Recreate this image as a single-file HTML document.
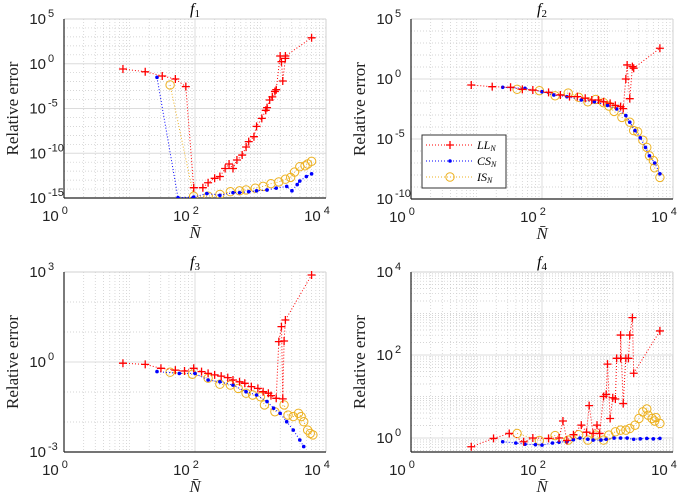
<!DOCTYPE html>
<html><head><meta charset="utf-8"><style>
body{margin:0;background:#fff;}
svg text{font-family:"Liberation Sans",sans-serif;}
</style></head><body>
<svg id="c" width="685" height="493" xmlns="http://www.w3.org/2000/svg"></svg>
<script>
// data stored as log10 values
const p1_LL_x=[0.9,1.24,1.5,1.7,1.86,1.98,2.12,2.2,2.3,2.38,2.46,2.52,2.58,2.64,2.72,2.78,2.82,2.9,2.94,3.02,3.08,3.1,3.14,3.18,3.22,3.24,3.3,3.32,3.34,3.38,3.38,3.78];
const p1_LL_y=[-0.59,-0.89,-1.37,-1.70,-2.56,-13.85,-13.85,-13.3,-12.8,-12.6,-11.7,-11.2,-11.7,-10.75,-10.2,-9.3,-8.7,-8.15,-7.0,-6.1,-5.2,-4.9,-4.05,-3.7,-3.1,-2.9,0.87,0.23,-1.93,0.6,0.87,2.9];
const p1_CS_x=[1.42,1.74,1.98,2.18,2.38,2.58,2.68,2.82,2.94,3.1,3.24,3.4,3.48,3.56,3.6,3.7,3.78];
const p1_CS_y=[-1.52,-14.97,-14.9,-14.5,-14.7,-14.4,-14.4,-14.3,-14.2,-14.1,-13.9,-13.7,-14.2,-13.5,-13.1,-12.6,-12.3];
const p1_IS_x=[1.62,1.98,2.2,2.38,2.54,2.68,2.78,2.92,3.04,3.16,3.28,3.38,3.46,3.52,3.6,3.68,3.72,3.78];
const p1_IS_y=[-2.37,-14.8,-14.8,-14.6,-14.3,-14.2,-14.1,-13.9,-13.7,-13.4,-13.2,-12.9,-12.7,-12.1,-11.5,-11.4,-11.2,-10.9];

const p2_LL_x=[0.92,1.24,1.52,1.7,1.86,2.1,2.28,2.42,2.54,2.66,2.76,2.86,2.94,3.04,3.12,3.2,3.24,3.28,3.3,3.34,3.38,3.4,3.8];
const p2_LL_y=[-0.5,-0.64,-0.69,-0.86,-0.92,-1.11,-1.33,-1.47,-1.47,-1.6,-1.75,-1.75,-1.9,-2.03,-2.2,-2.3,-2.47,0.0,1.17,-1.64,1.03,0.9,2.56];
const p2_CS_x=[1.4,1.74,2.0,2.18,2.38,2.6,2.8,3.0,3.14,3.28,3.34,3.42,3.5,3.58,3.64,3.72,3.8];
const p2_CS_y=[-0.69,-0.78,-1.06,-1.33,-1.47,-1.75,-1.9,-2.2,-2.5,-3.05,-3.6,-4.3,-4.9,-5.7,-6.4,-7.0,-7.9];
const p2_IS_x=[1.62,1.96,2.2,2.4,2.56,2.7,2.82,2.94,3.02,3.1,3.22,3.34,3.4,3.46,3.54,3.6,3.64,3.7,3.72,3.8];
const p2_IS_y=[-0.86,-0.97,-1.4,-1.17,-1.53,-1.9,-1.7,-1.97,-2.25,-2.7,-3.2,-3.6,-4.3,-4.4,-5.1,-5.7,-6.4,-6.8,-7.4,-8.2];

const p3_LL_x=[0.9,1.24,1.48,1.7,1.84,1.98,2.1,2.2,2.3,2.4,2.5,2.58,2.68,2.76,2.86,2.96,3.04,3.12,3.16,3.24,3.28,3.32,3.34,3.36,3.38,3.78];
const p3_LL_y=[-0.04,-0.08,-0.21,-0.27,-0.3,-0.21,-0.32,-0.38,-0.43,-0.47,-0.52,-0.6,-0.66,-0.71,-0.82,-0.88,-0.99,-1.04,-1.12,-1.21,0.68,1.18,-1.23,0.7,1.4,2.9];
const p3_CS_x=[1.42,1.76,2.0,2.2,2.38,2.58,2.78,2.94,3.1,3.2,3.3,3.4,3.5,3.6,3.66];
const p3_CS_y=[-0.32,-0.38,-0.38,-0.6,-0.66,-0.77,-0.99,-1.1,-1.32,-1.54,-1.71,-1.99,-2.27,-2.6,-2.82];
const p3_IS_x=[1.62,1.96,2.2,2.38,2.54,2.66,2.78,2.88,3.0,3.06,3.22,3.36,3.42,3.5,3.58,3.62,3.66,3.72,3.76,3.8];
const p3_IS_y=[-0.34,-0.41,-0.54,-0.74,-0.77,-0.88,-1.04,-1.1,-1.16,-1.43,-1.66,-1.43,-1.77,-1.82,-1.71,-1.82,-1.99,-2.27,-2.38,-2.43];

const p4_LL_x=[0.92,1.26,1.5,1.72,1.86,2.1,2.26,2.32,2.38,2.48,2.6,2.68,2.72,2.78,2.84,2.88,2.94,2.98,3.0,3.04,3.08,3.12,3.14,3.2,3.2,3.24,3.28,3.32,3.34,3.38,3.4,3.8];
const p4_LL_y=[-0.21,-0.01,0.11,-0.09,0.0,-0.01,0.0,0.41,-0.06,0.08,0.31,0.14,0.78,0.11,0.31,0.11,1.0,1.05,1.78,0.47,0.97,0.94,1.92,1.92,2.48,0.83,1.92,1.92,2.48,2.9,1.56,2.58];
const p4_CS_x=[1.4,1.6,1.74,1.9,2.0,2.16,2.26,2.38,2.48,2.58,2.7,2.78,2.9,2.98,3.1,3.2,3.3,3.4,3.5,3.6,3.7,3.8];
const p4_CS_y=[-0.09,-0.12,-0.15,-0.16,-0.17,-0.12,-0.1,-0.09,-0.04,0.0,-0.03,-0.05,-0.05,-0.03,0.0,0.0,0.0,-0.03,-0.02,-0.01,-0.02,-0.01];
const p4_IS_x=[1.62,1.96,2.2,2.4,2.56,2.7,2.82,2.94,3.02,3.12,3.2,3.28,3.34,3.42,3.48,3.54,3.6,3.62,3.68,3.72,3.74,3.8];
const p4_IS_y=[0.11,-0.06,0.06,-0.05,0.08,-0.05,0.07,-0.05,0.07,0.15,0.19,0.19,0.23,0.31,0.47,0.63,0.70,0.55,0.47,0.41,0.49,0.35];

const titles=["1","2","3","4"];
const NS="http://www.w3.org/2000/svg";
const svg=document.getElementById('c');
function mk(tag,attrs,parent){const e=document.createElementNS(NS,tag);for(const k in attrs)e.setAttribute(k,attrs[k]);(parent||svg).appendChild(e);return e;}

const panels=[
 {L:64,R:326,T:19,B:198,ymin:-15,ymax:5,lab:[-15,-10,-5,0,5],dense:false,
  LLx:p1_LL_x,LLy:p1_LL_y,CSx:p1_CS_x,CSy:p1_CS_y,ISx:p1_IS_x,ISy:p1_IS_y},
 {L:411,R:673,T:19,B:199,ymin:-10,ymax:5,lab:[-10,-5,0,5],dense:false,
  LLx:p2_LL_x,LLy:p2_LL_y,CSx:p2_CS_x,CSy:p2_CS_y,ISx:p2_IS_x,ISy:p2_IS_y},
 {L:64,R:326,T:272,B:452,ymin:-3,ymax:3,lab:[-3,0,3],dense:false,
  LLx:p3_LL_x,LLy:p3_LL_y,CSx:p3_CS_x,CSy:p3_CS_y,ISx:p3_IS_x,ISy:p3_IS_y},
 {L:411,R:673,T:272,B:452,ymin:-0.337,ymax:4,lab:[0,2,4],dense:true,
  LLx:p4_LL_x,LLy:p4_LL_y,CSx:p4_CS_x,CSy:p4_CS_y,ISx:p4_IS_x,ISy:p4_IS_y}
];

panels.forEach((p,i)=>{
  const g=mk('g',{});
  
  
  const xs=v=>p.L+v/4*(p.R-p.L);
  const ys=v=>p.B-(v-p.ymin)/(p.ymax-p.ymin)*(p.B-p.T);
  const cid='clip'+i;
  const cp=mk('clipPath',{id:cid},g);mk('rect',{x:p.L,y:p.T-6,width:p.R-p.L+8,height:p.B-p.T+6},cp);
  for(let d=0;d<4;d++){for(let m=2;m<=9;m++){const x=xs(d+Math.log10(m));
    mk('line',{x1:x,x2:x,y1:p.T,y2:p.B,stroke:'#c8c8c8','stroke-width':0.7,'stroke-dasharray':'1,2'},g);}}
  for(let d=1;d<4;d++){const x=xs(d);mk('line',{x1:x,x2:x,y1:p.T,y2:p.B,stroke:'#dcdcdc','stroke-width':1,'stroke-dasharray':d==2?'':'1,2'},g);}
  for(let d=Math.ceil(p.ymin);d<=p.ymax;d++){
    const y=ys(d);
    if(p.lab.includes(d)){mk('line',{x1:p.L,x2:p.R,y1:y,y2:y,stroke:'#dcdcdc','stroke-width':1},g);}
    else mk('line',{x1:p.L,x2:p.R,y1:y,y2:y,stroke:'#c8c8c8','stroke-width':0.7,'stroke-dasharray':'1,2'},g);
    if(p.dense){for(let m=2;m<=9;m++){const v=d-1+Math.log10(m);if(v<p.ymin)continue;const yy=ys(v);
      mk('line',{x1:p.L,x2:p.R,y1:yy,y2:yy,stroke:'#c8c8c8','stroke-width':0.7,'stroke-dasharray':'1,2'},g);}}
  }
  mk('line',{x1:p.L,x2:p.R,y1:p.T,y2:p.T,stroke:'#d0d0d0','stroke-width':1},g);
  mk('line',{x1:p.R,x2:p.R,y1:p.T,y2:p.B,stroke:'#d0d0d0','stroke-width':1},g);
  mk('line',{x1:p.L,x2:p.L,y1:p.T,y2:p.B,stroke:'#222','stroke-width':1.2},g);
  mk('line',{x1:p.L,x2:p.R,y1:p.B,y2:p.B,stroke:'#222','stroke-width':1.2},g);
  [0,2,4].forEach(d=>{
    const t=mk('text',{x:xs(d)-9,y:p.B+23,'font-size':15,'text-anchor':'middle',fill:'#222'},g);
    
    
    t.textContent='10';
    const s=mk('tspan',{dx:3,dy:-7,'font-size':11},t);s.textContent=String(d);
  });
  p.lab.forEach(d=>{
    const t=mk('text',{x:p.L-18,y:ys(d)+5,'font-size':15,'text-anchor':'end',fill:'#222'},g);
    
    
    t.textContent='10';
    const s=mk('text',{x:p.L-16,y:ys(d)-2,'font-size':11,'text-anchor':'start',fill:'#222'},g);
    
    
    s.textContent=String(d);
  });
  const tt=mk('text',{x:(p.L+p.R)/2,y:p.T-5,'font-size':16,'text-anchor':'middle','font-style':'italic',fill:'#000'},g);
  
  
  tt.style.fontFamily='"Liberation Serif",serif';
  tt.textContent='f';
  const ts=mk('tspan',{dy:3,'font-size':11,'font-style':'normal'},tt);ts.textContent=titles[i];
  const yl=mk('text',{x:0,y:0,'font-size':17,'text-anchor':'middle',fill:'#222',transform:`translate(${p.L-46},${(p.T+p.B)/2}) rotate(-90)`},g);
  
  
  yl.style.fontFamily='"Liberation Serif",serif';
  yl.textContent='Relative error';
  const xl=mk('text',{x:(p.L+p.R)/2,y:p.B+40,'font-size':17,'text-anchor':'middle','font-style':'italic',fill:'#222'},g);
  
  
  xl.style.fontFamily='"Liberation Serif",serif';
  xl.textContent='N\u0304';
  const dg=mk('g',{'clip-path':`url(#${cid})`},g);
  function series(X,Y,col,kind,name){
    const sg=mk('g',{},dg);
    
    
    const pts=X.map((x,k)=>xs(x).toFixed(1)+','+ys(Y[k]).toFixed(1)).join(' ');
    mk('polyline',{points:pts,fill:'none',stroke:col,'stroke-width':1,'stroke-dasharray':'1,2'},sg);
    X.forEach((x,k)=>{const cx=xs(x),cy=ys(Y[k]);
      if(kind==='plus'){mk('path',{d:`M${cx-4},${cy}H${cx+4}M${cx},${cy-4}V${cy+4}`,stroke:col,'stroke-width':1.3},sg);}
      else if(kind==='dot'){mk('circle',{cx:cx,cy:cy,r:1.8,fill:col},sg);}
      else mk('circle',{cx:cx,cy:cy,r:4.2,fill:'none',stroke:col,'stroke-width':1},sg);
    });
  }
  series(p.ISx,p.ISy,'#EDB120','circle','series-IS');
  series(p.CSx,p.CSy,'#0000FF','dot','series-CS');
  series(p.LLx,p.LLy,'#FF0000','plus','series-LL');
});

const lg=mk('g',{});


mk('rect',{x:422,y:135,width:84,height:53,fill:'#fff',stroke:'#333','stroke-width':1},lg);
const ents=[['LL','#FF0000','plus'],['CS','#0000FF','dot'],['IS','#EDB120','circle']];
ents.forEach((e,k)=>{
  const y=145+k*16;
  const eg=mk('g',{},lg);
  
  
  mk('line',{x1:426,x2:473,y1:y,y2:y,stroke:e[1],'stroke-width':1,'stroke-dasharray':'1,2'},eg);
  if(e[2]==='plus')mk('path',{d:`M446,${y}H454M450,${y-4}V${y+4}`,stroke:e[1],'stroke-width':1.3},eg);
  else if(e[2]==='dot')mk('circle',{cx:450,cy:y,r:1.8,fill:e[1]},eg);
  else mk('circle',{cx:450,cy:y,r:4.2,fill:'none',stroke:e[1]},eg);
  const t=mk('text',{x:477,y:y+4,'font-size':12,'font-style':'italic',fill:'#000'},eg);
  t.style.fontFamily='"Liberation Serif",serif';
  t.textContent=e[0];
  const s=mk('tspan',{dy:2,'font-size':8},t);s.textContent='N';
});
</script>
</body></html>
